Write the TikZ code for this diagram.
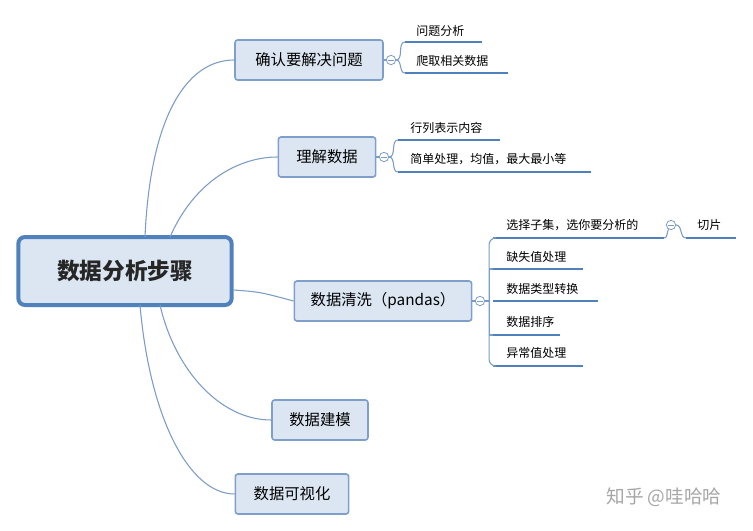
\documentclass[tikz,border=0pt]{standalone}
\usepackage{fontspec}
\setmainfont{Noto Sans CJK SC}
\begin{document}
\begin{tikzpicture}[x=0.75pt,y=-0.75pt,
 conn/.style={draw=linec,line width=0.8pt},
 br/.style={draw=boxb,line width=1.2pt,fill=boxf,rounded corners=2pt,font=\fontsize{11.5}{13}\selectfont,minimum height=30pt,inner xsep=8pt},
 lf/.style={font=\fontsize{9}{10}\selectfont,anchor=base west,inner sep=0pt},
 ul/.style={draw=ulc,line width=1.5pt},
 col/.style={circle,draw=linec,fill=white,inner sep=0pt,minimum size=7pt,line width=0.6pt}]
\definecolor{linec}{HTML}{7A9CC6}
\definecolor{boxb}{HTML}{7F9FCB}
\definecolor{boxf}{HTML}{DCE6F2}
\definecolor{ulc}{HTML}{4F81BD}
\useasboundingbox (0,0) rectangle (753,531);
\node[draw=ulc,line width=3pt,fill=boxf,rounded corners=5pt,minimum width=160pt,minimum height=51pt,font=\fontsize{17}{20}\selectfont\bfseries,text=black!85] (root) at (125,271) {数据分析步骤};
\node[br,minimum width=111pt] (b1) at (309,60) {确认要解决问题};
\node[br,minimum width=73pt] (b2) at (327,157) {理解数据};
\node[br,minimum width=133pt] (b3) at (383,301) {数据清洗（pandas）};
\node[br,minimum width=72pt] (b4) at (320,420) {数据建模};
\node[br,minimum width=85pt] (b5) at (292,494) {数据可视化};
\draw[conn] (145,237) .. controls (150,120) and (185,60) .. (b1.west);
\draw[conn] (170,237) .. controls (195,180) and (240,157) .. (b2.west);
\draw[conn] (root.east) ++(0,19) .. controls (260,292) .. (b3.west);
\draw[conn] (160,305) .. controls (175,370) and (220,420) .. (b4.west);
\draw[conn] (140,305) .. controls (150,420) and (190,494) .. (b5.west);
% leaves b1
\node[col] (c1) at (391,60) {}; \draw[conn] (b1.east)--(c1);
\coordinate (l11) at (405,42); \coordinate (l12) at (405,73);
\draw[ul] (l11)--(482,42); \draw[ul] (l12)--(508,73);
\node[lf] (t11) at (416,36) {问题分析};
\node[lf] (t12) at (416,66) {爬取相关数据};
\draw[conn] (c1.east) to[out=0,in=180] (l11); \draw[conn] (c1.east) to[out=0,in=180] (l12);
% leaves b2
\node[col] (c2) at (384,157) {}; \draw[conn] (b2.east)--(c2);
\coordinate (l21) at (398,140); \coordinate (l22) at (398,172);
\draw[ul] (l21)--(500,140); \draw[ul] (l22)--(591,172);
\node[lf] (t21) at (410,133) {行列表示内容};
\node[lf] (t22) at (410,164) {简单处理，均值，最大最小等};
\draw[conn] (c2.east) to[out=0,in=180] (l21); \draw[conn] (c2.east) to[out=0,in=180] (l22);
% leaves b3
\node[col] (c3) at (480,301) {}; \draw[conn] (b3.east)--(c3);
\coordinate (l31) at (493,238); \coordinate (l32) at (493,269); \coordinate (l33) at (493,301);
\coordinate (l34) at (493,335); \coordinate (l35) at (493,366);
\draw[ul] (l31)--(664,238); \draw[ul] (l32)--(583,269); \draw[ul] (l33)--(598,301);
\draw[ul] (l34)--(560,335); \draw[ul] (l35)--(583,366);
\node[lf] (t31) at (506,229) {选择子集，选你要分析的};
\node[lf] (t32) at (506,261) {缺失值处理};
\node[lf] (t33) at (506,293) {数据类型转换};
\node[lf] (t34) at (506,326) {数据排序};
\node[lf] (t35) at (506,357) {异常值处理};
\draw[conn] (c3.east) -- ++(4,0) coordinate (k3);
\draw[conn,rounded corners=5pt] (l31) -| (k3) |- (l35);
\draw[conn] (k3) |- (l32); \draw[conn] (k3) |- (l34);
\node[col] (c4) at (671,225) {}; \draw[conn] (664,238) to[out=0,in=240] (c4);
\coordinate (l41) at (686,238); \draw[ul] (l41)--(736,238);
\draw[conn] (c4.east) to[out=0,in=180] (l41);
\node[lf] (t41) at (697,229) {切片};
\foreach \c in {c1,c2,c3,c4} \draw[linec,line width=0.6pt] ([xshift=-2pt]\c.center)--([xshift=2pt]\c.center);
\node[font=\fontsize{14}{16}\selectfont,text=black!35] (wm) at (664,497) {知乎 @哇哈哈};
\end{tikzpicture}
\end{document}
